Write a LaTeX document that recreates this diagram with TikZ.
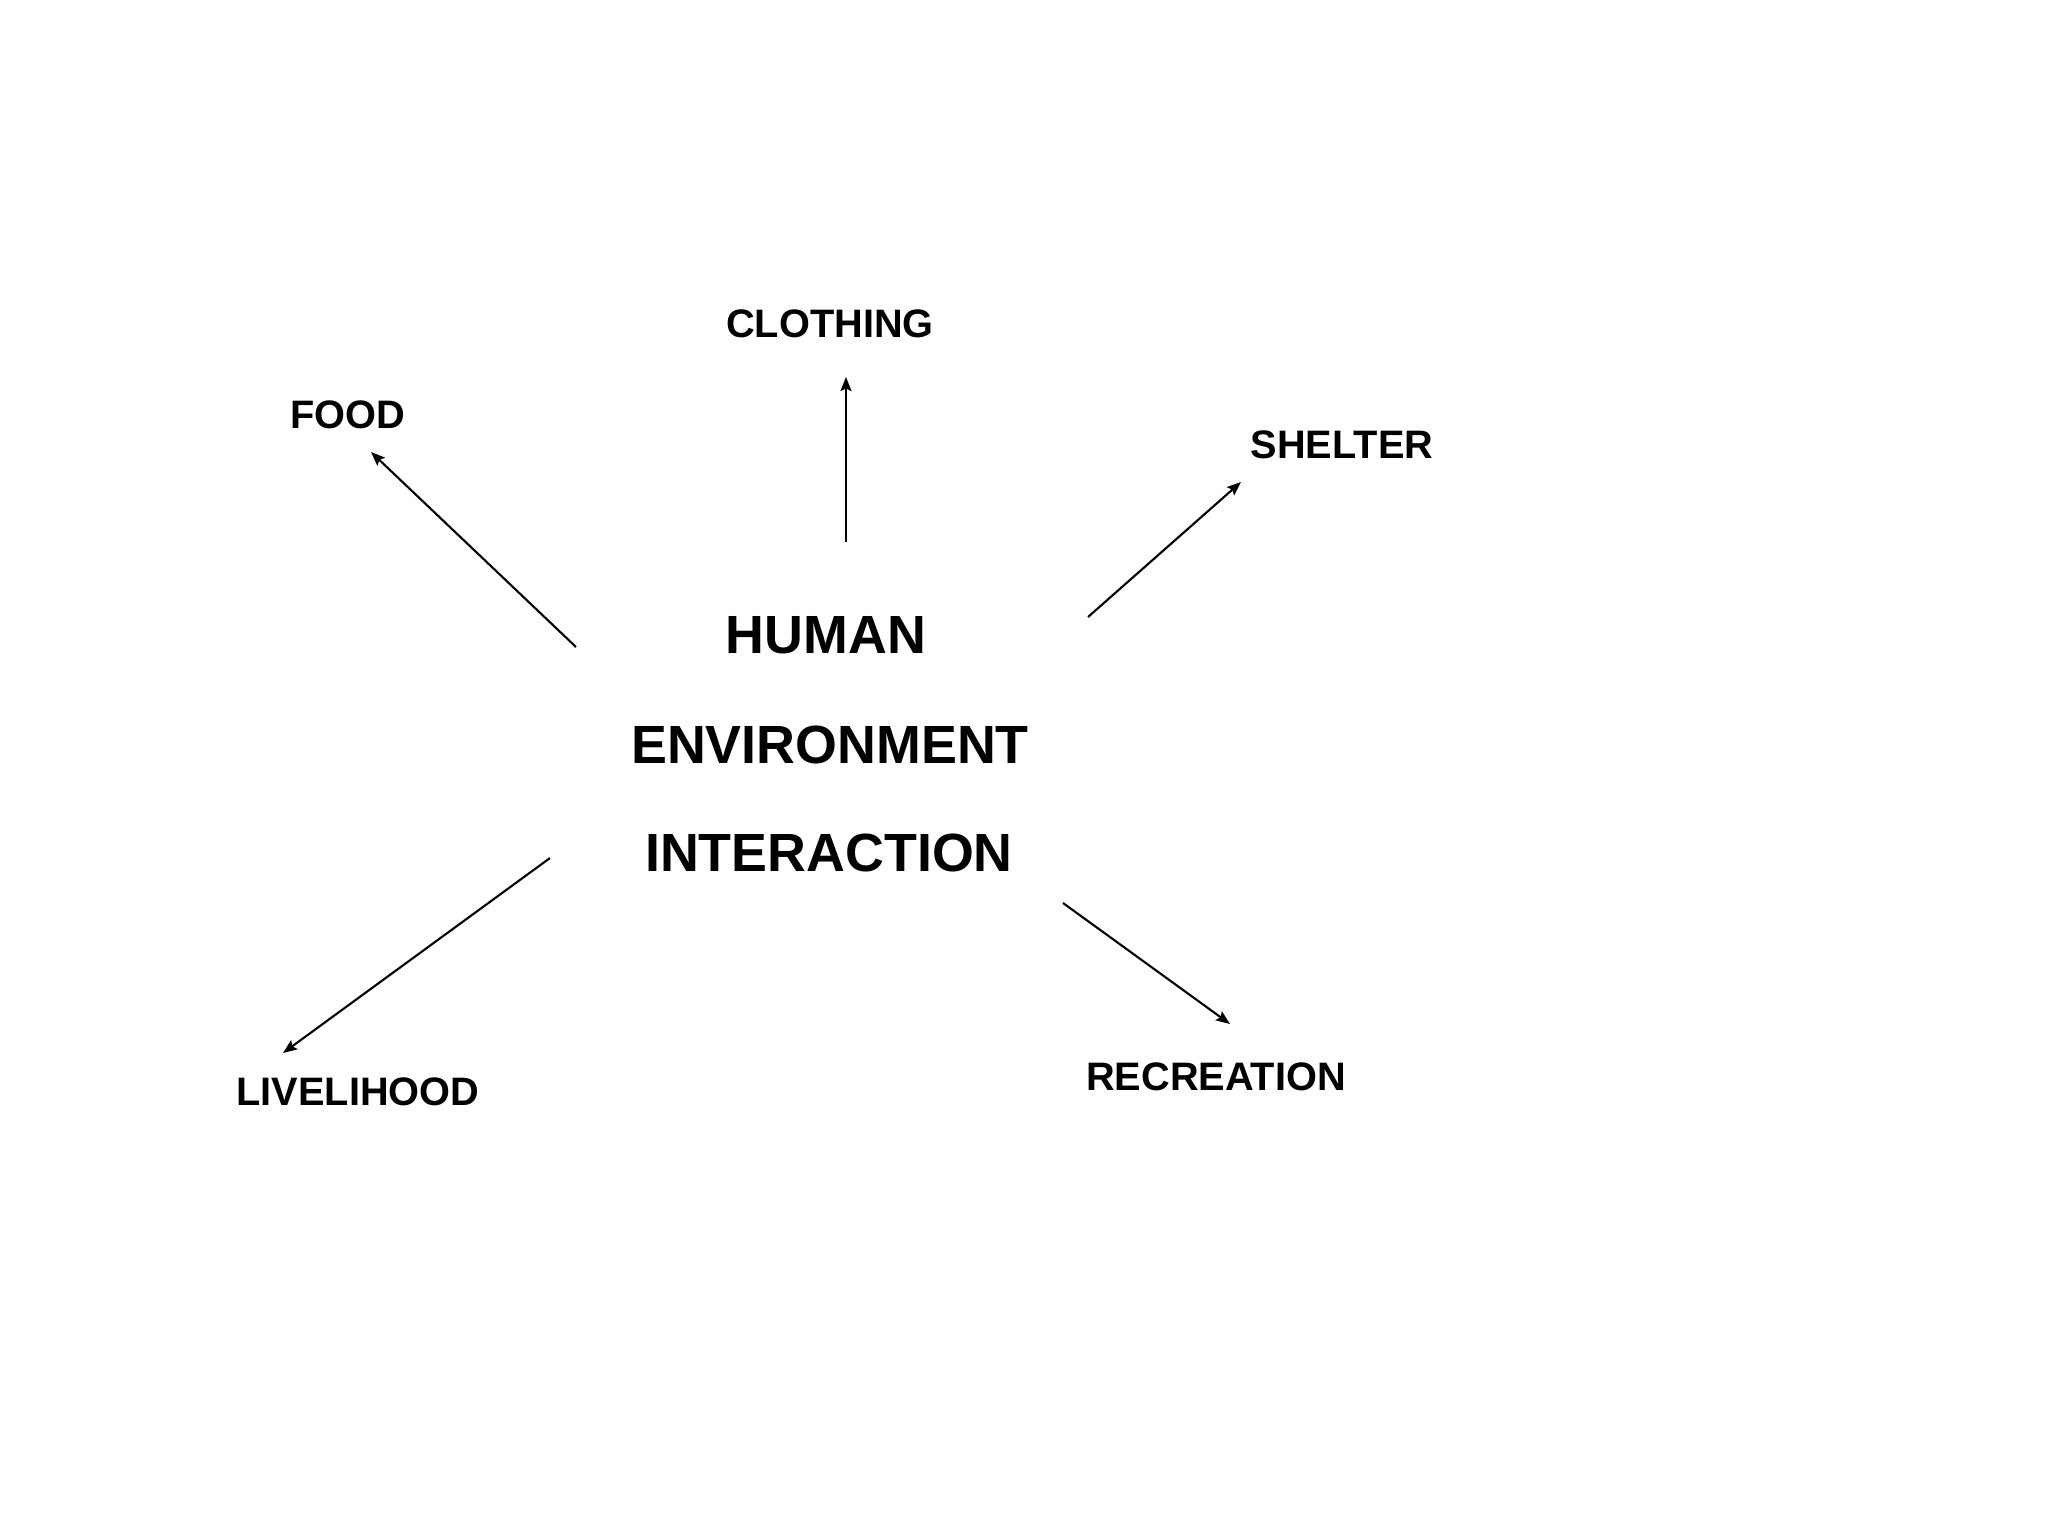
\documentclass[tikz,border=0pt]{standalone}
\usepackage{fontspec}
\setmainfont{Liberation Sans}
\usetikzlibrary{arrows.meta}
\tikzset{
  small/.style={font=\fontsize{11.3}{13}\selectfont\bfseries, inner sep=0pt},
  big/.style={font=\fontsize{15.3}{18}\selectfont\bfseries, inner sep=0pt},
  conn/.style={line width=0.6pt, -{Stealth[length=1.4mm,width=1.1mm,inset=0.25mm]}}
}
\begin{document}
\begin{tikzpicture}[x=0.01cm,y=-0.01cm]
\useasboundingbox (0,0) rectangle (2048,1536);
% centre text
\node[big] (human) at (826,635) {HUMAN};
\node[big] (env) at (830,745) {ENVIRONMENT};
\node[big] (inter) at (829,853) {INTERACTION};
% labels
\node[small] (clothing) at (830,324) {CLOTHING};
\node[small] (food) at (348,415) {FOOD};
\node[small] (shelter) at (1342,445) {SHELTER};
\node[small] (livelihood) at (358,1092) {LIVELIHOOD};
\node[small] (recreation) at (1216,1077) {RECREATION};
% arrow ends
\coordinate (fS) at (576,647);  \coordinate (fE) at (371,452);
\coordinate (cS) at (846,542);  \coordinate (cE) at (846,377);
\coordinate (sS) at (1088,617); \coordinate (sE) at (1241,482);
\coordinate (lS) at (550,858);  \coordinate (lE) at (283,1053);
\coordinate (rS) at (1063,903); \coordinate (rE) at (1230,1024);
\draw[conn] (fS) -- (fE);
\draw[conn] (cS) -- (cE);
\draw[conn] (sS) -- (sE);
\draw[conn] (lS) -- (lE);
\draw[conn] (rS) -- (rE);
\end{tikzpicture}
\end{document}
